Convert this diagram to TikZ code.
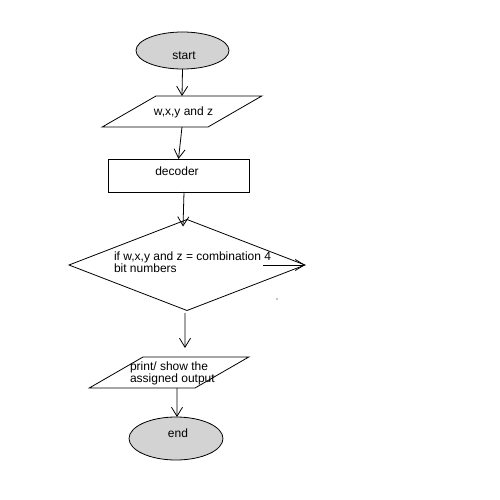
\documentclass[tikz,border=0pt]{standalone}
\usepackage{fontspec}
\setmainfont{Liberation Sans}
\usetikzlibrary{shapes.geometric,arrows.meta}
\definecolor{termfill}{RGB}{211,211,211}
\begin{document}
\begin{tikzpicture}[x=1pt,y=-1pt,
  every node/.style={font=\fontsize{12}{12.5}\selectfont, inner sep=0pt, outer sep=0pt},
  shapeline/.style={draw=black, line width=0.8pt},
  term/.style={shapeline, ellipse, fill=termfill},
  io/.style={shapeline, trapezium, trapezium left angle=45, trapezium right angle=135,
             trapezium stretches=true, minimum width=160pt, minimum height=31pt, inner sep=2pt},
  proc/.style={shapeline, rectangle},
  decision/.style={shapeline, diamond, minimum width=236pt, minimum height=91pt, inner sep=2pt},
  lbl/.style={anchor=base},
  txt/.style={align=left, anchor=base west},
  arr/.style={draw=black, line width=0.8pt, -{Straight Barb[length=9pt,width=11pt]}}
]
\useasboundingbox[fill=white] (0,0) rectangle (500,500);

\node[term, minimum width=93pt, minimum height=37pt] (start) at (182.5,50.5) {\phantom{x}};
\node[lbl] (startt) at (184,60) {start};
\node[io] (p1) at (182,111.5) {\phantom{x}};
\node[lbl] (p1t) at (183.5,115) {w,x,y and z};
\node[proc, minimum width=141pt, minimum height=33pt] (dec) at (178.5,175.5) {\phantom{x}};
\node[lbl] (dect) at (177,175.5) {decoder};
\node[decision] (dia) at (187,265) {\phantom{x}};
\node[txt] (diat) at (114,272.5) {if w,x,y and z = combination 4\\bit numbers};
\node[io] (p2) at (169,372.5) {\phantom{x}};
\node[txt] (p2t) at (130,382.5) {print/ show the\\assigned output};
\node[term, minimum width=94pt, minimum height=43pt] (end) at (176,438.5) {\phantom{x}};
\node[lbl] (endt) at (178,437) {end};

\draw[arr] (start.south) -- (p1.north);
\draw[arr] (p1.south) -- (dec.north);
\draw[arr] ([xshift=5.5pt]dec.south) -- ([xshift=-4pt,yshift=-7pt]dia.north);
\draw[arr] ([xshift=-2pt,yshift=-2.5pt]dia.south) -- ([xshift=16pt,yshift=9pt]p2.north);
\draw[arr] ([xshift=8pt]p2.south) -- ([xshift=1pt]end.north);
\draw[arr] ([xshift=-42pt]dia.east) -- (dia.east);
\fill[black] (277,299) circle (0.6pt);
\end{tikzpicture}
\end{document}
